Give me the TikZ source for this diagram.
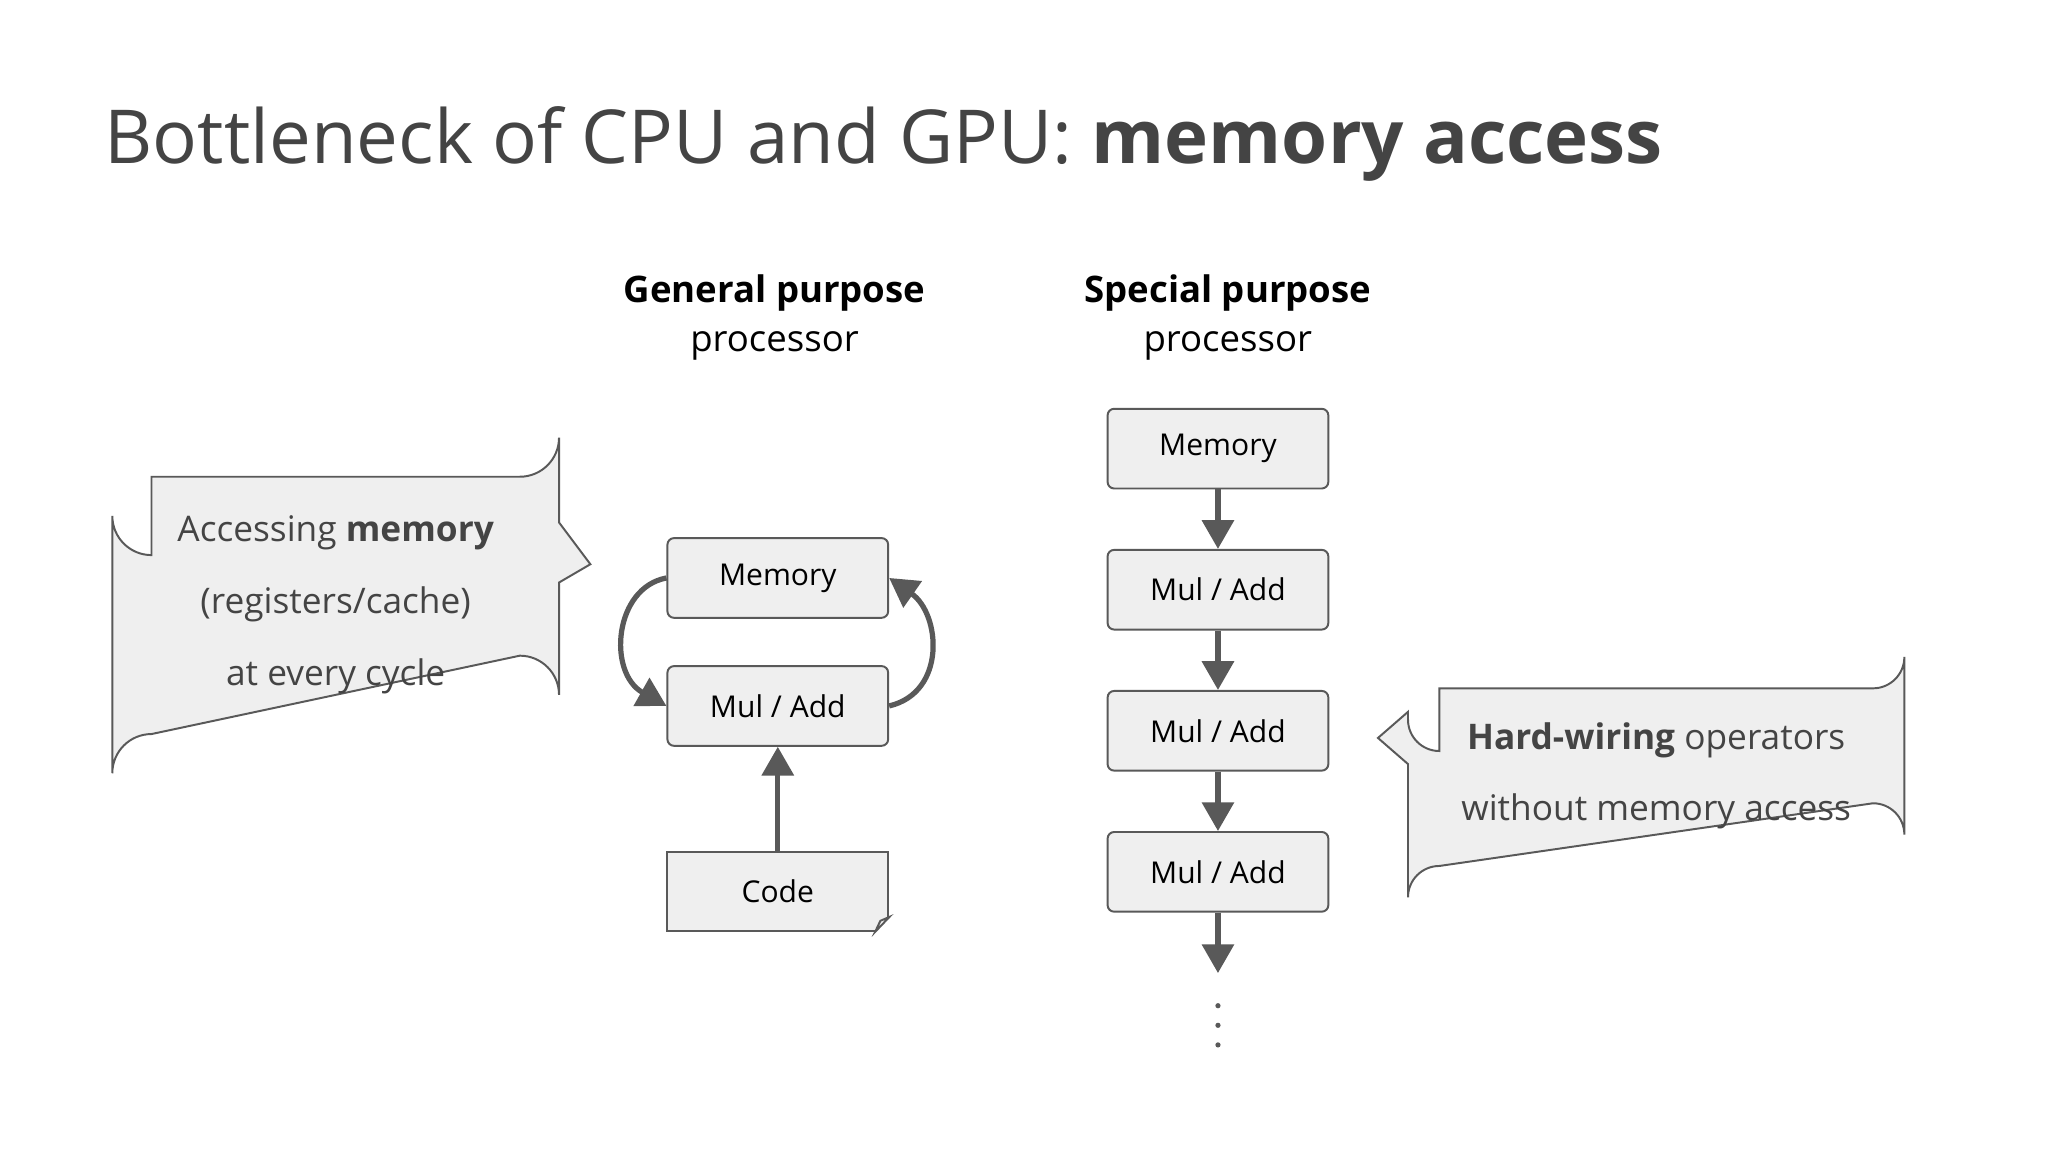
\documentclass[tikz,border=0pt]{standalone}
\usepackage{fontspec}
\setmainfont{Open Sans}
\usetikzlibrary{arrows.meta}
\definecolor{ink}{HTML}{444444}
\definecolor{boxfill}{HTML}{EFEFEF}
\definecolor{edge}{HTML}{595959}
\begin{document}
\begin{tikzpicture}[x=1pt,y=-1pt,
  box/.style={draw=edge,fill=boxfill,line width=1.5pt,rounded corners=5pt,minimum width=169pt,minimum height=61pt,font=\fontsize{23}{28}\selectfont,text=black},
  arr/.style={draw=edge,line width=4pt,-{Triangle[length=22pt,width=24pt]}},
  hdr/.style={align=center,font=\fontsize{28}{37}\selectfont}]
\fill[white] (0,0) rectangle (1568,882);
\useasboundingbox (0,0) rectangle (1568,882);
% title
\node[anchor=base west,inner sep=0,text=ink,font=\fontsize{57}{66}\selectfont] (title) at (80,125) {Bottleneck of CPU and GPU: \textbf{memory access}};
% headers
\node[hdr] (h1) at (593,243) {\textbf{General purpose}\\processor};
\node[hdr] (h2) at (940,243) {\textbf{Special purpose}\\processor};
% general purpose
\node[box] (gm) at (595.5,442.5) {Memory};
\node[box] (ga) at (595.5,540.5) {Mul / Add};
\node[box,rounded corners=0pt] (gc) at (595.5,682.5) {Code};
\fill[white] (670,713.5) -- (681,713.5) -- (681,702) -- cycle;
\draw[edge,line width=1.5pt] (670,713.5) -- (681,702) -- (674,705) -- cycle;
\draw[arr] (gc) -- (ga);
\draw[arr] (gm.west) .. controls (470,450) and (465,515) .. (ga.west);
\draw[arr] (ga.east) .. controls (725,530) and (720,470) .. (gm.east);
% special purpose
\node[box] (s1) at (932.5,343.5) {Memory};
\node[box] (s2) at (932.5,451.5) {Mul / Add};
\node[box] (s3) at (932.5,559.5) {Mul / Add};
\node[box] (s4) at (932.5,667.5) {Mul / Add};
\coordinate (send) at (932.5,745);
\draw[arr] (s1) -- (s2);
\draw[arr] (s2) -- (s3);
\draw[arr] (s3) -- (s4);
\draw[arr] (s4) -- (send);
\foreach \yy in {770,785,800} \fill[edge] (932.5,\yy) circle (2pt);
% callouts
\draw[edge,fill=boxfill,line width=1.5pt]
  (116,365) -- (398,365) arc[start angle=90,end angle=0,radius=30] -- (428,400) -- (452,432) -- (428,446) -- (428,532) arc[start angle=0,end angle=-90,radius=30] -- (116,562) arc[start angle=270,end angle=180,radius=30] -- (86,395) arc[start angle=180,end angle=90,radius=30] -- cycle;
\node[align=center,text=ink,font=\fontsize{27}{55}\selectfont] (c1) at (257,463) {Accessing \textbf{memory}\\(registers/cache)\\at every cycle};
\draw[edge,fill=boxfill,line width=1.5pt]
  (1102,527) -- (1434,527) arc[start angle=90,end angle=0,radius=24] -- (1458,639) arc[start angle=0,end angle=-90,radius=24] -- (1102,663) arc[start angle=270,end angle=180,radius=24] -- (1078,585) -- (1055,565) -- (1078,545) -- (1078,551) -- (1078,551) arc[start angle=180,end angle=90,radius=24] -- cycle;
\node[align=center,text=ink,font=\fontsize{27}{55}\selectfont] (c2) at (1268,594) {\textbf{Hard-wiring} operators\\without memory access};
\end{tikzpicture}
\end{document}
